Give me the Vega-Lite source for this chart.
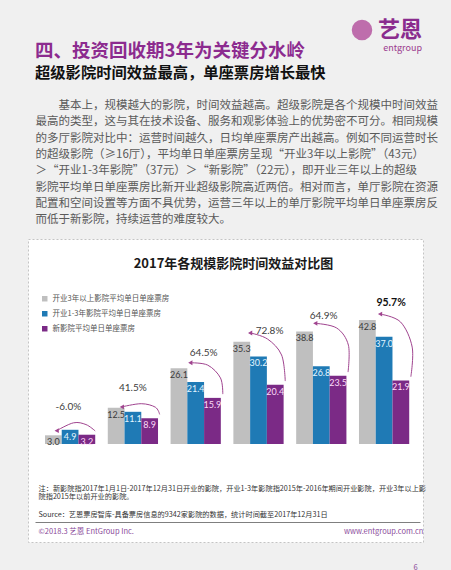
{
  "$schema": "https://vega.github.io/schema/vega-lite/v6.json",
  "width": 395,
  "height": 303,
  "autosize": {"type": "none"},
  "padding": {"left": 28, "top": 239, "right": 28, "bottom": 28},
  "background": "#f0f0f0",
  "view": {"fill": "#ffffff", "stroke": "#c4c4c4", "strokeDash": [2, 2]},
  "config": {
    "font": "Noto Sans CJK SC",
    "axis": {"grid": false},
    "locale": {"number": {"decimal": ".", "thousands": ",", "grouping": [3], "currency": ["", ""], "minus": "-"}}
  },
  "title": {
    "text": "四、投资回收期3年为关键分水岭",
    "subtitle": "超级影院时间效益最高，单座票房增长最快",
    "anchor": "start", "frame": "group", "dx": 7, "offset": -62,
    "font": "Noto Sans CJK SC", "fontSize": 18.5, "fontWeight": "bold", "color": "#8c2b8f",
    "subtitleFont": "Noto Sans CJK SC", "subtitleFontSize": 15.3, "subtitleFontWeight": "bold",
    "subtitleColor": "#111111", "subtitlePadding": 5
  },
  "datasets": {
    "bars": [
      {"cat": "单厅影院", "series": "开业3年以上影院平均单日单座票房", "value": 3.0},
      {"cat": "单厅影院", "series": "开业1-3年影院平均单日单座票房", "value": 4.9},
      {"cat": "单厅影院", "series": "新影院平均单日单座票房", "value": 3.2},
      {"cat": "小型影院\n（2-4厅）", "series": "开业3年以上影院平均单日单座票房", "value": 12.5},
      {"cat": "小型影院\n（2-4厅）", "series": "开业1-3年影院平均单日单座票房", "value": 11.1},
      {"cat": "小型影院\n（2-4厅）", "series": "新影院平均单日单座票房", "value": 8.9},
      {"cat": "中型影院\n（5-7厅）", "series": "开业3年以上影院平均单日单座票房", "value": 26.1},
      {"cat": "中型影院\n（5-7厅）", "series": "开业1-3年影院平均单日单座票房", "value": 21.4},
      {"cat": "中型影院\n（5-7厅）", "series": "新影院平均单日单座票房", "value": 15.9},
      {"cat": "大型影院\n（8-10厅）", "series": "开业3年以上影院平均单日单座票房", "value": 35.3},
      {"cat": "大型影院\n（8-10厅）", "series": "开业1-3年影院平均单日单座票房", "value": 30.2},
      {"cat": "大型影院\n（8-10厅）", "series": "新影院平均单日单座票房", "value": 20.4},
      {"cat": "巨型影院\n（11-15厅）", "series": "开业3年以上影院平均单日单座票房", "value": 38.8},
      {"cat": "巨型影院\n（11-15厅）", "series": "开业1-3年影院平均单日单座票房", "value": 26.8},
      {"cat": "巨型影院\n（11-15厅）", "series": "新影院平均单日单座票房", "value": 23.5},
      {"cat": "超级影院\n（≥16厅）", "series": "开业3年以上影院平均单日单座票房", "value": 42.8},
      {"cat": "超级影院\n（≥16厅）", "series": "开业1-3年影院平均单日单座票房", "value": 37.0},
      {"cat": "超级影院\n（≥16厅）", "series": "新影院平均单日单座票房", "value": 21.9}
    ],
    "arrows": [
      {"cat": "单厅影院", "step": 1, "u": 1.5, "v": 4.5},
      {"cat": "单厅影院", "step": 2, "u": 0.95, "v": 6.7},
      {"cat": "单厅影院", "step": 3, "u": 0.2, "v": 7.3},
      {"cat": "单厅影院", "step": 4, "u": -0.8, "v": 4.6},
      {"cat": "小型影院\n（2-4厅）", "step": 1, "u": 1.6, "v": 10.2},
      {"cat": "小型影院\n（2-4厅）", "step": 2, "u": 1.34, "v": 12.7},
      {"cat": "小型影院\n（2-4厅）", "step": 3, "u": 0.5, "v": 13.9},
      {"cat": "小型影院\n（2-4厅）", "step": 4, "u": -0.66, "v": 12.8},
      {"cat": "中型影院\n（5-7厅）", "step": 1, "u": 1.62, "v": 17.2},
      {"cat": "中型影院\n（5-7厅）", "step": 2, "u": 1.48, "v": 22.8},
      {"cat": "中型影院\n（5-7厅）", "step": 3, "u": 0.72, "v": 27.2},
      {"cat": "中型影院\n（5-7厅）", "step": 4, "u": -0.32, "v": 28.0},
      {"cat": "大型影院\n（8-10厅）", "step": 1, "u": 1.6, "v": 21.7},
      {"cat": "大型影院\n（8-10厅）", "step": 2, "u": 1.38, "v": 30.7},
      {"cat": "大型影院\n（8-10厅）", "step": 3, "u": 0.54, "v": 36.2},
      {"cat": "大型影院\n（8-10厅）", "step": 4, "u": -0.5, "v": 38.3},
      {"cat": "巨型影院\n（11-15厅）", "step": 1, "u": 1.6, "v": 24.8},
      {"cat": "巨型影院\n（11-15厅）", "step": 2, "u": 1.62, "v": 34.1},
      {"cat": "巨型影院\n（11-15厅）", "step": 3, "u": 0.92, "v": 40.0},
      {"cat": "巨型影院\n（11-15厅）", "step": 4, "u": -0.36, "v": 41.6},
      {"cat": "超级影院\n（≥16厅）", "step": 1, "u": 1.6, "v": 23.2},
      {"cat": "超级影院\n（≥16厅）", "step": 2, "u": 1.68, "v": 33.4},
      {"cat": "超级影院\n（≥16厅）", "step": 3, "u": 0.98, "v": 42.1},
      {"cat": "超级影院\n（≥16厅）", "step": 4, "u": -0.24, "v": 44.8}
    ],
    "pct": [
      {"cat": "单厅影院", "pct": -0.06, "u": -0.1, "v": 12.9},
      {"cat": "小型影院\n（2-4厅）", "pct": 0.415, "u": 0.0, "v": 19.2},
      {"cat": "中型影院\n（5-7厅）", "pct": 0.645, "u": 0.48, "v": 31.5},
      {"cat": "大型影院\n（8-10厅）", "pct": 0.728, "u": 0.66, "v": 39.1},
      {"cat": "巨型影院\n（11-15厅）", "pct": 0.649, "u": 0.14, "v": 44.2},
      {"cat": "超级影院\n（≥16厅）", "pct": 0.957, "u": 0.42, "v": 48.5}
    ],
    "logo": [{"brand": "艺恩"}]
  },
  "resolve": {"scale": {"x": "independent", "y": "independent"}},
  "layer": [
    {
      "resolve": {"scale": {"xOffset": "independent"}},
      "layer": [
        {
          "data": {"name": "bars"},
          "mark": {"type": "bar"},
          "encoding": {
            "x": {
              "field": "cat", "type": "nominal", "sort": null,
              "scale": {"domain": ["单厅影院", "小型影院\n（2-4厅）", "中型影院\n（5-7厅）", "大型影院\n（8-10厅）", "巨型影院\n（11-15厅）", "超级影院\n（≥16厅）"], "range": [10.7, 387.5], "paddingInner": 0.2, "paddingOuter": 0.1},
              "axis": {
                "orient": "bottom", "offset": -98, "labelAngle": 0, "ticks": false, "title": null,
                "domainColor": "#d9d9d9", "labelFontSize": 8.5, "labelColor": "#333333",
                "labelPadding": 6, "labelLineHeight": 10, "labelBaseline": "top",
                "labelExpr": "split(datum.label, '\\n')"
              }
            },
            "xOffset": {"field": "series", "type": "nominal", "sort": null,
              "scale": {"type": "band", "domain": ["开业3年以上影院平均单日单座票房", "开业1-3年影院平均单日单座票房", "新影院平均单日单座票房"], "paddingInner": 0, "paddingOuter": 0}},
            "y": {
              "field": "value", "type": "quantitative",
              "scale": {"domain": [0, 50], "range": [205, 60], "nice": false},
              "axis": null
            },
            "color": {
              "field": "series", "type": "nominal",
              "scale": {"domain": ["开业3年以上影院平均单日单座票房", "开业1-3年影院平均单日单座票房", "新影院平均单日单座票房"], "range": ["#bfbfbf", "#1f7ab5", "#7b2a86"]},
              "legend": {"orient": "none", "legendX": 13, "legendY": 56, "title": null,
                "symbolType": "square", "symbolSize": 30, "symbolStrokeWidth": 0,
                "labelFontSize": 7.5, "labelColor": "#555555", "rowPadding": 6, "labelOffset": 4}
            }
          }
        },
        {
          "data": {"name": "arrows"},
          "mark": {"type": "line", "interpolate": "cardinal", "color": "#a0448f", "strokeWidth": 1},
          "encoding": {
            "x": {"field": "cat", "type": "nominal", "sort": null, "axis": null},
            "xOffset": {"field": "u", "type": "quantitative", "scale": {"domain": [-1.5, 1.5], "range": [0, 50.2], "nice": false, "zero": false}},
            "y": {"field": "v", "type": "quantitative", "axis": null},
            "detail": {"field": "cat"},
            "order": {"field": "step", "type": "quantitative"}
          }
        },
        {
          "data": {"name": "arrows"},
          "transform": [{"filter": "datum.step == 4"}],
          "mark": {"type": "point", "shape": "triangle-left", "filled": true, "size": 24, "color": "#a0448f", "opacity": 1},
          "encoding": {
            "x": {"field": "cat", "type": "nominal", "sort": null, "axis": null},
            "xOffset": {"field": "u", "type": "quantitative", "scale": {"domain": [-1.5, 1.5], "range": [0, 50.2], "nice": false, "zero": false}},
            "y": {"field": "v", "type": "quantitative", "axis": null}
          }
        },
        {
          "data": {"name": "bars"},
          "mark": {"type": "text", "baseline": "top", "dy": 3, "font": "Lato", "fontSize": 9, "align": "center"},
          "encoding": {
            "x": {"field": "cat", "type": "nominal", "sort": null, "axis": null},
            "xOffset": {"field": "series", "type": "nominal", "sort": null,
              "scale": {"type": "band", "domain": ["开业3年以上影院平均单日单座票房", "开业1-3年影院平均单日单座票房", "新影院平均单日单座票房"], "paddingInner": 0, "paddingOuter": 0}},
            "y": {"field": "value", "type": "quantitative", "axis": null},
            "text": {"field": "value", "type": "quantitative", "format": ".1f"},
            "color": {"condition": [
              {"test": "datum.series == '开业3年以上影院平均单日单座票房'", "value": "#3a3a3a"},
              {"test": "datum.series == '开业1-3年影院平均单日单座票房'", "value": "#e3f5ff"}
            ], "value": "#fbdcf8"}
          }
        },
        {
          "data": {"name": "pct"},
          "transform": [{"filter": "datum.pct < 0.9"}],
          "mark": {"type": "text", "font": "Lato", "fontSize": 10, "color": "#404040"},
          "encoding": {
            "x": {"field": "cat", "type": "nominal", "sort": null, "axis": null},
            "xOffset": {"field": "u", "type": "quantitative", "scale": {"domain": [-1.5, 1.5], "range": [0, 50.2], "nice": false, "zero": false}},
            "y": {"field": "v", "type": "quantitative", "axis": null},
            "text": {"field": "pct", "type": "quantitative", "format": ".1%"}
          }
        },
        {
          "data": {"name": "pct"},
          "transform": [{"filter": "datum.pct >= 0.9"}],
          "mark": {"type": "text", "font": "Lato", "fontSize": 10.5, "fontWeight": "bold", "color": "#111111"},
          "encoding": {
            "x": {"field": "cat", "type": "nominal", "sort": null, "axis": null},
            "xOffset": {"field": "u", "type": "quantitative", "scale": {"domain": [-1.5, 1.5], "range": [0, 50.2], "nice": false, "zero": false}},
            "y": {"field": "v", "type": "quantitative", "axis": null},
            "text": {"field": "pct", "type": "quantitative", "format": ".1%"}
          }
        }
      ]
    },
    {
      "data": {"name": "logo"},
      "transform": [{"filter": "datum.brand == 'none'"}],
      "mark": {"type": "point", "filled": true, "color": "#a8358f"},
      "encoding": {
        "x": {
          "field": "brand", "type": "nominal",
          "scale": {"domain": ["艺恩"], "range": [7, 392]},
          "axis": {
            "orient": "top", "offset": -283, "labels": false, "ticks": false,
            "domainColor": "#7f7f7f", "domainWidth": 1,
            "title": ["©2018.3 艺恩 EntGroup Inc.　　　　　　　　　　　　　　　　　　　　　　　　　　　　www.entgroup.com.cn", "\u200b", "\u200b", "\u200b", "\u200b　　　　　　　　　　　　　　　　　　　　　　　　　　　　　　　　　　　　　　　　　　　　　　　　　　6"],
            "titleX": 10, "titleY": 5, "titleAlign": "left", "titleBaseline": "top",
            "titleFontSize": 7.5, "titleFontWeight": "normal", "titleColor": "#8a4a9a",
            "titleLineHeight": 9, "titleLimit": 1000
          }
        },
        "y": {
          "field": "brand", "type": "nominal",
          "scale": {"domain": ["艺恩"]},
          "axis": {
            "orient": "right", "domain": false, "ticks": false, "labels": false,
            "title": "2017年各规模影院时间效益对比图",
            "titleAngle": 0, "titleX": -190, "titleY": 24, "titleAlign": "center", "titleBaseline": "middle",
            "titleFontSize": 13, "titleFontWeight": "bold", "titleColor": "#1a1a1a", "titleLimit": 1000
          }
        },
        "shape": {
          "field": "brand", "type": "nominal",
          "scale": {"domain": ["艺恩"], "range": ["circle"]},
          "legend": {
            "orient": "none", "legendX": 323, "legendY": -220,
            "title": "entgroup", "titleOrient": "bottom", "titleAnchor": "end",
            "titleFontSize": 9, "titleFontWeight": "normal", "titleColor": "#9b3b8e", "titlePadding": 3,
            "symbolSize": 420, "symbolFillColor": "#a8358f", "symbolStrokeWidth": 0,
            "labelFontSize": 22, "labelFontWeight": "bold", "labelColor": "#8a2c8e", "labelOffset": 5
          }
        }
      }
    },
    {
      "data": {"name": "logo"},
      "transform": [{"filter": "datum.brand == 'none'"}],
      "mark": {"type": "point"},
      "encoding": {
        "x": {
          "field": "brand", "type": "nominal",
          "scale": {"domain": ["艺恩"]},
          "axis": {
            "orient": "bottom", "domain": false, "labels": false, "ticks": false,
            "title": ["注：新影院指2017年1月1日-2017年12月31日开业的影院，开业1-3年影院指2015年-2016年期间开业影院，开业3年以上影", "院指2015年以前开业的影院。", "\u200b", "Source：艺恩票房智库-具备票房信息的9342家影院的数据，统计时间截至2017年12月31日"],
            "titleX": 10, "titleY": -58, "titleAlign": "left", "titleBaseline": "top",
            "titleFontSize": 7.2, "titleFontWeight": "normal", "titleColor": "#333333",
            "titleLineHeight": 8.7, "titleLimit": 1000
          }
        },
        "y": {
          "field": "brand", "type": "nominal",
          "scale": {"domain": ["艺恩"]},
          "axis": {
            "orient": "left", "domain": false, "ticks": false, "labels": false,
            "title": ["\u200b　　基本上，规模越大的影院，时间效益越高。超级影院是各个规模中时间效益", "最高的类型，这与其在技术设备、服务和观影体验上的优势密不可分。相同规模", "的多厅影院对比中：运营时间越久，日均单座票房产出越高。例如不同运营时长", "的超级影院（≥16厅），平均单日单座票房呈现“开业3年以上影院”（43元）", "＞“开业1-3年影院”（37元）＞“新影院”（22元），即开业三年以上的超级", "影院平均单日单座票房比新开业超级影院高近两倍。相对而言，单厅影院在资源", "配置和空间设置等方面不具优势，运营三年以上的单厅影院平均单日单座票房反", "而低于新影院，持续运营的难度较大。"],
            "titleAngle": 0, "titleX": 7, "titleY": -139.3, "titleAlign": "left", "titleBaseline": "top",
            "titleFontSize": 11.5, "titleFontWeight": "normal", "titleColor": "#5a5a5a",
            "titleLineHeight": 16.3, "titleLimit": 1000
          }
        }
      }
    }
  ]
}
